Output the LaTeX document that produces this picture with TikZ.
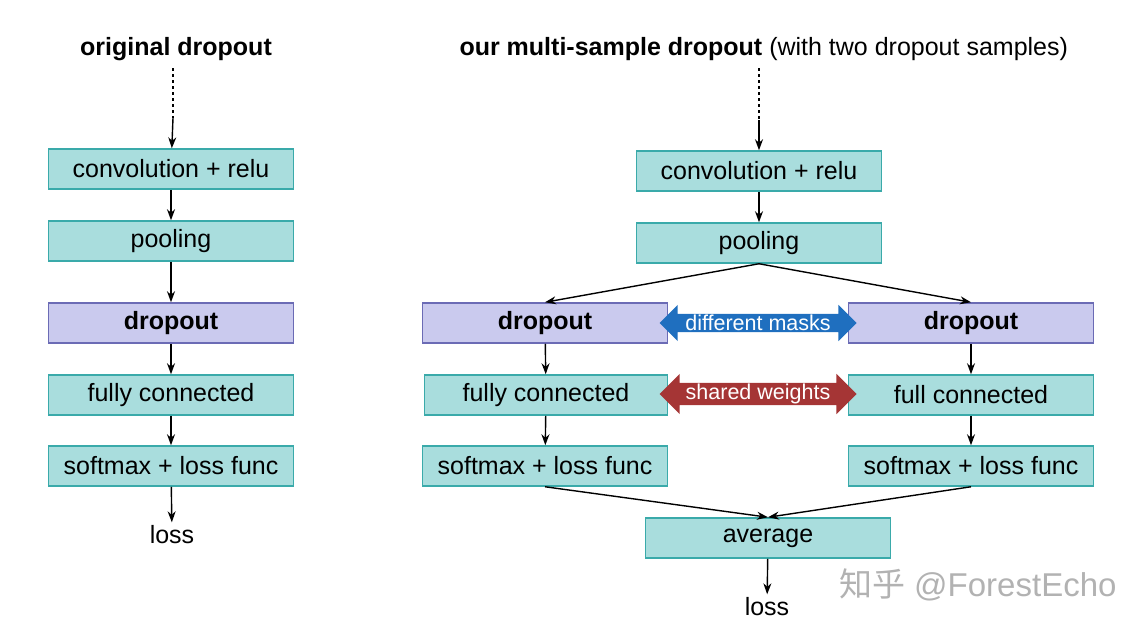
\documentclass[tikz,border=0pt]{standalone}
\usepackage{fontspec}
\setmainfont{Liberation Sans}
\newfontfamily\cjk{Noto Sans CJK SC}
\usetikzlibrary{shapes.arrows,arrows.meta}
\definecolor{tfill}{HTML}{A9DDDD}
\definecolor{tdraw}{HTML}{3AAAAA}
\definecolor{pfill}{HTML}{CACAEE}
\definecolor{pdraw}{HTML}{6B6BB5}
\definecolor{blu}{HTML}{1F6FBF}
\definecolor{redd}{HTML}{A53535}
\begin{document}
\begin{tikzpicture}[x=1pt,y=-1pt,
 box/.style={draw=tdraw,fill=tfill,line width=1.5pt,minimum width=245pt,minimum height=40pt,inner sep=0pt,font=\fontsize{25}{28}\selectfont},
 pbox/.style={box,draw=pdraw,fill=pfill,font=\fontsize{25}{28}\selectfont\bfseries},
 arr/.style={-{Stealth[length=11pt,width=8pt]},line width=1.4pt},
 lbl/.style={font=\fontsize{25}{28}\selectfont},
 dbl/.style={double arrow,double arrow head extend=9pt,minimum height=197pt,minimum width=30pt,inner sep=1pt,text=white,font=\fontsize{21.5}{24}\selectfont}]
\useasboundingbox (0,0) rectangle (1148,632);
% left
\node[lbl,font=\fontsize{25}{28}\selectfont\bfseries] (t1) at (176,49) {original dropout};
\node[box] (c1) at (171,169) {convolution + relu};
\node[box] (p1) at (171,241) {pooling};
\node[pbox] (d1) at (171,323) {dropout};
\node[box] (f1) at (171,395) {fully connected};
\node[box] (s1) at (171,466) {softmax + loss func};
\node[lbl] (l1) at (172,535) {loss};
\coordinate (a1) at (173,118);
\draw[dashed,line width=1.3pt] (173,68) -- (a1);
\draw[arr] (a1) -- (c1);
\draw[arr] (c1) -- (p1);
\draw[arr] (p1) -- (d1);
\draw[arr] (d1) -- (f1);
\draw[arr] (f1) -- (s1);
\draw[arr] (s1) -- (l1);
% right
\node[lbl,anchor=west] (t2) at (456,49) {\textbf{our multi-sample dropout} (with two dropout samples)};
\node[box] (c2) at (759,171) {convolution + relu};
\node[box] (p2) at (759,243) {pooling};
\node[pbox] (dl) at (545,323) {dropout};
\node[pbox] (dr) at (971,323) {dropout};
\node[box,minimum width=243pt] (fl) at (546,395) {fully connected};
\node[box] (sr0) at (971,395) {full connected};
\node[box] (sl) at (545,466) {softmax + loss func};
\node[box] (sr) at (971,466) {softmax + loss func};
\node[box] (av) at (768,538) {average};
\node[lbl] (l2) at (767,607) {loss};
\coordinate (a2) at (759,120);
\draw[dashed,line width=1.3pt] (759,68) -- (a2);
\draw[arr] (a2) -- (c2);
\draw[arr] (c2) -- (p2);
\draw[arr] (p2.south) -- (dl.north);
\draw[arr] (p2.south) -- (dr.north);
\draw[arr] (dl) -- (fl);
\draw[arr] (dr) -- (sr0);
\draw[arr] (fl) -- (sl);
\draw[arr] (sr0) -- (sr);
\draw[arr] (sl.south) -- (av.north);
\draw[arr] (sr.south) -- (av.north);
\draw[arr] (av) -- (l2);
\node[dbl,fill=blu] (m) at (758,323) {different masks};
\node[dbl,fill=redd] (w) at (758,394) {shared weights};
\node[text=black!30,font=\fontsize{33}{38}\selectfont,anchor=east] (wm) at (1120,585) {{\cjk 知乎} @ForestEcho};
\end{tikzpicture}
\end{document}
